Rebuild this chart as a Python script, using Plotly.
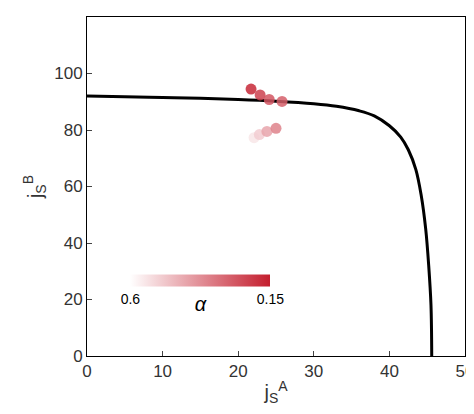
import plotly.graph_objects as go

curve_x = [0, 5, 10, 15, 20, 25, 30, 33, 36, 38, 40, 41.5, 42.5, 43.5, 44.2, 44.8, 45.2, 45.5, 45.6]
curve_y = [92, 91.8, 91.5, 91.2, 90.8, 90.2, 89.3, 88.4, 86.8, 85, 81.5, 77.5, 73, 66, 57, 45, 32, 18, 0]

pts_x = [21.7, 22.9, 24.1, 25.8, 22.1, 22.8, 23.8, 25.0]
pts_y = [94.5, 92.4, 90.8, 90.1, 77.3, 78.4, 79.5, 80.6]
alphas = [0.17, 0.22, 0.26, 0.28, 0.55, 0.5, 0.42, 0.35]

cb_ticks = [0.6, 0.15]
cb_labels = ["0.6", "0.15"]

red = "#c41e2e"
fig = go.Figure()
fig.add_trace(go.Scatter(x=curve_x, y=curve_y, mode="lines",
                         line=dict(color="black", width=3), line_shape="spline", showlegend=False))
fig.add_trace(go.Scatter(
    x=pts_x, y=pts_y, mode="markers", showlegend=False,
    marker=dict(size=11, color=[-a for a in alphas], cmin=-0.6, cmax=-0.15,
                colorscale=[[0, "#ffffff"], [1, red]], opacity=0.85,
                colorbar=dict(orientation="h", x=0.3, xanchor="center", y=0.09, yanchor="bottom",
                              len=0.424, lenmode="fraction", thickness=12, outlinewidth=0,
                              tickvals=[-t for t in cb_ticks], ticktext=cb_labels,
                              ticks="", ticklabelposition="outside top",
                              tickfont=dict(size=14, color="black"),
                              title=dict(text="<i>α</i>", side="bottom", font=dict(size=20, color="black"))))))

ax = dict(showline=True, linecolor="black", linewidth=1, mirror=True, ticks="inside",
          ticklen=5, showgrid=False, zeroline=False, tickfont=dict(size=17, color="#333"))
fig.update_layout(
    width=474, height=414, margin=dict(l=79, r=13, t=8, b=66),
    plot_bgcolor="white", paper_bgcolor="white",
    font=dict(family="Liberation Sans, Arial, sans-serif"),
    xaxis=dict(range=[0, 50], dtick=10, title=dict(text="j<sub>S</sub><sup>A</sup>", font=dict(size=20, color="#333"), standoff=4), **ax),
    yaxis=dict(range=[0, 120], dtick=20, title=dict(text="j<sub>S</sub><sup>B</sup>", font=dict(size=20, color="#333"), standoff=6), **ax),
)
fig.write_html("out.html")
